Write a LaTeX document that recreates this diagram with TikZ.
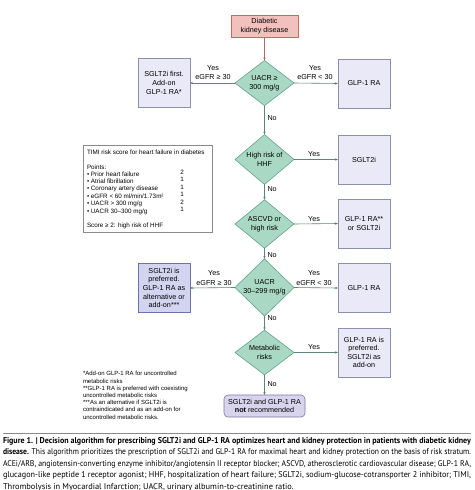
\documentclass[tikz,border=0pt]{standalone}
\usepackage{fontspec}
\usepackage{graphicx}
\setmainfont{Liberation Sans}
\newfontfamily\capfont{PT Sans}
\usetikzlibrary{shapes.geometric,arrows.meta}
\definecolor{startfill}{HTML}{F2C0BD}
\definecolor{startdraw}{HTML}{C46A63}
\definecolor{decfill}{HTML}{A9D8C4}
\definecolor{decdraw}{HTML}{62A48C}
\definecolor{boxfill}{HTML}{E9E9F8}
\definecolor{boxdraw}{HTML}{8C8FB0}
\definecolor{prefill}{HTML}{D3D5F0}
\definecolor{predraw}{HTML}{6D71A6}
\definecolor{endfill}{HTML}{D8D4EE}
\definecolor{enddraw}{HTML}{7E78A6}
\definecolor{linecol}{HTML}{5F8479}
\definecolor{redline}{HTML}{A86A66}
\definecolor{rulecol}{HTML}{8A8A8A}
\newsavebox\capsbox
\newcommand\capjust[1]{\sbox\capsbox{#1}\ifdim\wd\capsbox>468pt\relax\resizebox{468pt}{\height}{\usebox\capsbox}\else\makebox[468pt][s]{#1}\fi}
\tikzset{
  every node/.style={inner sep=0pt, outer sep=0pt},
  txt/.style={font=\fontsize{7.2}{8.6}\selectfont, align=center},
  startbox/.style={txt, draw=startdraw, fill=startfill, minimum width=67pt, minimum height=22pt, line width=0.6pt},
  dec/.style={txt, shape=diamond, draw=decdraw, fill=decfill, minimum width=59pt, minimum height=40pt, line width=0.6pt},
  outbox/.style={txt, draw=boxdraw, fill=boxfill, minimum width=52pt, minimum height=49pt, line width=0.6pt},
  prebox/.style={outbox, draw=predraw, fill=prefill},
  endbox/.style={txt, draw=enddraw, fill=endfill, rounded corners=4pt, minimum width=81pt, minimum height=22pt, line width=0.6pt},
  conn/.style={draw=linecol, line width=0.6pt, -{Stealth[length=3pt,width=2.4pt]}},
  redconn/.style={conn, draw=redline},
  lbl/.style={font=\fontsize{7.2}{8}\selectfont},
  nolbl/.style={lbl, anchor=west},
  timibox/.style={draw=rulecol, fill=white, line width=0.5pt, minimum width=129pt, minimum height=87pt},
  timitxt/.style={font=\fontsize{6.3}{7}\selectfont, anchor=west},
  timinum/.style={font=\fontsize{6.3}{7}\selectfont},
  footnote/.style={font=\fontsize{6}{7.2}\selectfont, align=left, anchor=north west},
  capline/.style={font=\capfont\fontsize{8.4}{9}\selectfont, anchor=west},
}
\begin{document}
\begin{tikzpicture}[x=1pt,y=-1pt]
\fill[white] (0,0) rectangle (474,490);
\useasboundingbox (0,0) rectangle (474,490);

% main flow
\node[startbox] (dkd) at (264.5,26) {Diabetic\\kidney disease};
\node[dec] (d1) at (264.5,83) {UACR ≥\\300 mg/g};
\node[outbox] (l1) at (164,83) {SGLT2i first.\\Add-on\\GLP-1 RA*};
\node[outbox] (r1) at (364,83.5) {GLP-1 RA};
\node[dec] (d2) at (264.5,159.5) {High risk of\\HHF};
\node[outbox] (r2) at (364,159.5) {SGLT2i};
\node[dec] (d3) at (264.5,224) {ASCVD or\\high risk};
\node[outbox] (r3) at (364,223.5) {GLP-1 RA**\\or SGLT2i};
\node[dec] (d4) at (264.5,287.5) {UACR\\30–299 mg/g};
\node[outbox] (r4) at (364,288) {GLP-1 RA};
\node[prebox] (l4) at (164,288) {SGLT2i is\\preferred.\\GLP-1 RA as\\alternative or\\add-on***};
\node[dec] (d5) at (264.5,352.5) {Metabolic\\risks};
\node[outbox] (r5) at (364,352.5) {GLP-1 RA is\\preferred.\\SGLT2i as\\add-on};
\node[endbox] (end) at (264.5,406) {SGLT2i and GLP-1 RA\\\textbf{not} recommended};

% connectors
\draw[redconn] (dkd) -- (d1);
\draw[conn] (d1.west) -- (l1.east);
\draw[conn] (d1.east) -- (r1.west);
\draw[conn] (d1.south) -- (d2.north);
\draw[conn] (d2.east) -- (r2.west);
\draw[conn] (d2.south) -- (d3.north);
\draw[conn] (d3.east) -- (r3.west);
\draw[conn] (d3.south) -- (d4.north);
\draw[conn] (d4.east) -- (r4.west);
\draw[conn] (d4.west) -- (l4.east);
\draw[conn] (d4.south) -- (d5.north);
\draw[conn] (d5.east) -- (r5.west);
\draw[conn] (d5.south) -- (end.north);

% labels
\node[lbl] (y1l) at (213,68) {Yes};
\node[lbl] (e1l) at (213,77) {eGFR ≥ 30};
\node[lbl] (y1r) at (315,68) {Yes};
\node[lbl] (e1r) at (315,77) {eGFR < 30};
\node[nolbl] (no1) at (267.5,118) {No};
\node[lbl] (y2) at (314,154) {Yes};
\node[nolbl] (no2) at (267.5,189) {No};
\node[lbl] (y3) at (314,219) {Yes};
\node[nolbl] (no3) at (267.5,255) {No};
\node[lbl] (y4r) at (314,273) {Yes};
\node[lbl] (e4r) at (314,283) {eGFR < 30};
\node[lbl] (y4l) at (214,273) {Yes};
\node[lbl] (e4l) at (214,283.5) {eGFR ≥ 30};
\node[nolbl] (no4) at (267.5,318) {No};
\node[lbl] (y5) at (314,347) {Yes};
\node[nolbl] (no5) at (267.5,384) {No};

% TIMI box
\node[timibox] (timi) at (147.5,188.5) {};
\node[timitxt] (t1) at (87,152) {TIMI risk score for heart failure in diabetes};
\node[timitxt] (t2) at (87,167) {Points:};
\node[timitxt] (t3) at (87,174) {• Prior heart failure};
\node[timitxt] (t4) at (87,181.5) {• Atrial fibrillation};
\node[timitxt] (t5) at (87,189) {• Coronary artery disease};
\node[timitxt] (t6) at (87,196.5) {• eGFR < 60 ml/min/1.73m²};
\node[timitxt] (t7) at (87,204) {• UACR > 300 mg/g};
\node[timitxt] (t8) at (87,211.5) {• UACR 30–300 mg/g};
\node[timitxt] (t9) at (87,226) {Score ≥ 2: high risk of HHF};
\node[timinum] (n1) at (182,172) {2};
\node[timinum] (n2) at (182,179.5) {1};
\node[timinum] (n3) at (182,187) {1};
\node[timinum] (n4) at (182,194.5) {1};
\node[timinum] (n5) at (182,202) {2};
\node[timinum] (n6) at (182,209.5) {1};

% footnotes
\node[footnote] (fn) at (83,371.5) {*Add-on GLP-1 RA for uncontrolled\\metabolic risks\\**GLP-1 RA is preferred with coexisting\\uncontrolled metabolic risks\\***As an alternative if SGLT2i is\\contraindicated and as an add-on for\\uncontrolled metabolic risks.};

% caption
\coordinate (rl) at (3,433);
\coordinate (rr) at (471,433);
\draw[rulecol, line width=1pt] (rl) -- (rr);
\node[capline] (c1) at (3,441) {\capjust{\textbf{Figure 1. | Decision algorithm for prescribing SGLT2i and GLP-1 RA optimizes heart and kidney protection in patients with diabetic kidney}}};
\node[capline] (c2) at (3,452.5) {\capjust{\textbf{disease.} This algorithm prioritizes the prescription of SGLT2i and GLP-1 RA for maximal heart and kidney protection on the basis of risk stratum.}};
\node[capline] (c3) at (3,464) {\capjust{ACEi/ARB, angiotensin-converting enzyme inhibitor/angiotensin II receptor blocker; ASCVD, atherosclerotic cardiovascular disease; GLP-1 RA,}};
\node[capline] (c4) at (3,475.5) {\capjust{glucagon-like peptide 1 receptor agonist; HHF, hospitalization of heart failure; SGLT2i, sodium-glucose-cotransporter 2 inhibitor; TIMI,}};
\node[capline] (c5) at (3,487) {Thrombolysis in Myocardial Infarction; UACR, urinary albumin-to-creatinine ratio.};
\end{tikzpicture}
\end{document}
